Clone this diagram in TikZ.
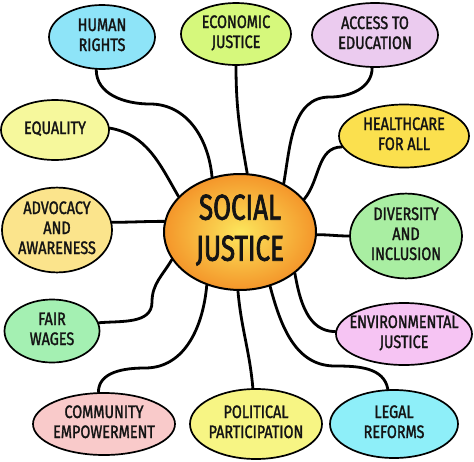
\documentclass[tikz,border=0pt]{standalone}
\usepackage{fontspec}
\setmainfont{Fira Sans}
\newfontfamily\hand{Fira Sans}[FakeStretch=0.8,FakeBold=1.6]
\newfontfamily\handc{Fira Sans}[FakeStretch=0.72,FakeBold=2]
\usetikzlibrary{shapes.geometric,backgrounds}
\definecolor{cHR}{HTML}{8EE4F8}
\definecolor{cEJ}{HTML}{D6F87C}
\definecolor{cAE}{HTML}{EBCBEF}
\definecolor{cEQ}{HTML}{F6F89C}
\definecolor{cHC}{HTML}{FBE04E}
\definecolor{cAD}{HTML}{FBE48C}
\definecolor{cDI}{HTML}{A9EEA2}
\definecolor{cFW}{HTML}{A4F0B2}
\definecolor{cEN}{HTML}{F6C4F3}
\definecolor{cCE}{HTML}{F9CACA}
\definecolor{cPP}{HTML}{F7F584}
\definecolor{cLR}{HTML}{8EEFF9}
\definecolor{cSJo}{HTML}{F4962A}
\definecolor{cSJi}{HTML}{FCE65C}
\definecolor{ink}{HTML}{141414}
\newcommand\tx[1]{\makebox[0pt]{\begin{tabular}{@{}c@{}}#1\end{tabular}}}
\begin{document}
\begin{tikzpicture}[x=1pt,y=-1pt,
  bub/.style={ellipse, draw=black, line width=1.7pt, inner sep=0pt, text=ink,
    font=\hand\fontsize{18}{20}\selectfont},
  link/.style={line width=2.8pt, line cap=round, draw=black}]
\useasboundingbox (0,0) rectangle (474,461);
\node[bub, fill=cHR, minimum width=106pt, minimum height=64pt] (hr) at (102,37) {\tx{HUMAN\\RIGHTS}};
\node[bub, fill=cEJ, minimum width=110pt, minimum height=62pt] (ej) at (236,34) {\tx{ECONOMIC\\JUSTICE}};
\node[bub, fill=cAE, minimum width=126pt, minimum height=64pt] (ae) at (375,35) {\tx{ACCESS TO\\EDUCATION}};
\node[bub, fill=cEQ, minimum width=108pt, minimum height=60pt] (eq) at (55,130) {\tx{EQUALITY}};
\node[bub, fill=cHC, minimum width=130pt, minimum height=63pt] (hc) at (404,136) {\tx{HEALTHCARE\\FOR ALL}};
\node[bub, fill=cAD, minimum width=110pt, minimum height=84pt] (ad) at (57,230) {\tx{ADVOCACY\\AND\\AWARENESS}};
\node[bub, fill=cDI, minimum width=112pt, minimum height=82pt] (di) at (406,236) {\tx{DIVERSITY\\AND\\INCLUSION}};
\node[bub, fill=cFW, minimum width=95pt, minimum height=63pt] (fw) at (52,331) {\tx{FAIR\\WAGES}};
\node[bub, fill=cEN, minimum width=136pt, minimum height=62pt] (en) at (404,334) {\tx{ENVIRONMENTAL\\JUSTICE}};
\node[bub, fill=cCE, minimum width=142pt, minimum height=62pt] (ce) at (104,424) {\tx{COMMUNITY\\EMPOWERMENT}};
\node[bub, fill=cPP, minimum width=132pt, minimum height=70pt] (pp) at (256,424) {\tx{POLITICAL\\PARTICIPATION}};
\node[bub, fill=cLR, minimum width=128pt, minimum height=68pt] (lr) at (394,424) {\tx{LEGAL\\REFORMS}};
\node[bub, line width=2pt, shading=radial, inner color=cSJi, outer color=cSJo, minimum width=152pt, minimum height=115pt,
  font=\handc\fontsize{36}{41}\selectfont] (sj) at (240,232) {\tx{SOCIAL\\JUSTICE}};
\coordinate (h1) at (150,104);
\coordinate (a1) at (330,97);
\coordinate (f1) at (152,302);
\coordinate (c1) at (145,368);
\coordinate (l1) at (335,366);
\begin{scope}[on background layer]
\draw[link] (hr.-100) to[out=-90,in=180] (h1) to[out=0,in=95] (sj.117);
\draw[link] (ej.-90) to[out=-90,in=100] (sj.83);
\draw[link] (ae.-95) to[out=-90,in=0] (a1) to[out=180,in=80] (sj.48);
\draw[link] (eq.2) to[out=-10,in=120] (sj.150);
\draw[link] (hc.190) to[out=180,in=50] (sj.27);
\draw[link] (ad.8) to[out=0,in=180] (sj.172);
\draw[link] (di.180) to[out=180,in=0] (sj.-2);
\draw[link] (fw.10) to[out=5,in=-90] (f1) to[out=90,in=-120] (sj.-158);
\draw[link] (ce.100) to[out=90,in=180] (c1) to[out=0,in=-95] (sj.-122);
\draw[link] (pp.95) to[out=95,in=-85] (sj.-92);
\draw[link] (lr.100) to[out=100,in=0] (l1) to[out=180,in=-75] (sj.-61);
\draw[link] (en.178) to[out=180,in=-80] (sj.-37);
\end{scope}
\end{tikzpicture}
\end{document}
